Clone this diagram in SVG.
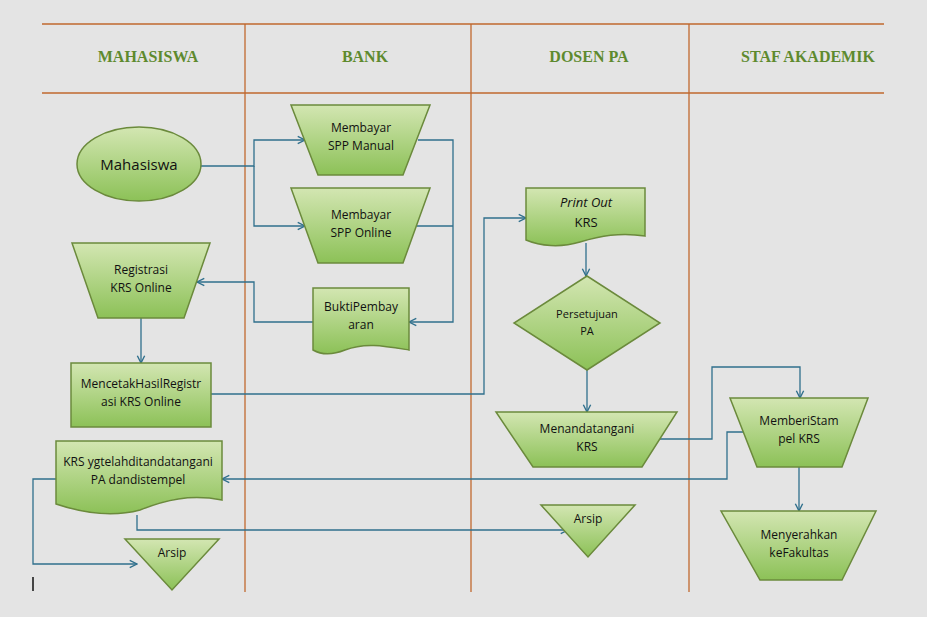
<svg xmlns="http://www.w3.org/2000/svg" width="927" height="617" viewBox="0 0 927 617">
<defs>
<linearGradient id="g" x1="0" y1="0" x2="0" y2="1"><stop offset="0" stop-color="#d3e6b2"/><stop offset="1" stop-color="#8cc157"/></linearGradient>
<marker id="a" viewBox="0 0 10 10" refX="9" refY="5" markerWidth="7" markerHeight="7" orient="auto-start-reverse"><path d="M1,1 L9,5 L1,9" fill="none" stroke="#2f6f8c" stroke-width="1.5"/></marker>
</defs>
<style>
.s{fill:url(#g);stroke:#6b8a3c;stroke-width:1.5}
.t{font-family:"Open Sans","Liberation Sans",sans-serif;font-size:12px;fill:#111;text-anchor:middle}
.h{font-family:"Liberation Serif",serif;font-weight:bold;font-size:16px;fill:#5e8a2e;text-anchor:middle}
.c{fill:none;stroke:#2f6f8c;stroke-width:1.3}
.l{stroke:#c0682e;stroke-width:1.3}
</style>
<rect width="927" height="617" fill="#e4e4e4"/>
<g id="lanes">
<line class="l" x1="42" y1="24" x2="884" y2="24"/>
<line class="l" x1="42" y1="93" x2="884" y2="93"/>
<line class="l" x1="245" y1="24" x2="245" y2="592"/>
<line class="l" x1="471" y1="24" x2="471" y2="592"/>
<line class="l" x1="689" y1="24" x2="689" y2="592"/>
<text class="h" x="148" y="62">MAHASISWA</text>
<text class="h" x="365" y="62">BANK</text>
<text class="h" x="589" y="62">DOSEN PA</text>
<text class="h" x="808" y="62">STAF AKADEMIK</text>
</g>
<g id="connectors">
<path class="c" d="M201,166 H254 V140 H305" marker-end="url(#a)"/>
<path class="c" d="M254,166 V226 H305" marker-end="url(#a)"/>
<path class="c" d="M418,140 H453 V322 H409" marker-end="url(#a)"/>
<path class="c" d="M417,226 H453"/>
<path class="c" d="M313,322 H254 V282 H197" marker-end="url(#a)"/>
<path class="c" d="M141,318 V363" marker-end="url(#a)"/>
<path class="c" d="M211,394 H484 V218 H526" marker-end="url(#a)"/>
<path class="c" d="M586,243 V276" marker-end="url(#a)"/>
<path class="c" d="M587,370 V412" marker-end="url(#a)"/>
<path class="c" d="M660,439 H712 V367 H800 V398" marker-end="url(#a)"/>
<path class="c" d="M744,432 H727 V479 H222" marker-end="url(#a)"/>
<path class="c" d="M56,479 H33 V564 H137" marker-end="url(#a)"/>
<path class="c" d="M137,515 V530 H568" marker-end="url(#a)"/>
<path class="c" d="M799,467 V511" marker-end="url(#a)"/>
<line x1="33" y1="577" x2="33" y2="591" stroke="#111" stroke-width="1.5"/>
</g>
<g id="mahasiswa"><ellipse class="s" cx="139" cy="164" rx="62" ry="37"/><text class="t" x="139" y="170" style="font-size:15px">Mahasiswa</text></g>
<g id="manual"><path class="s" d="M291,105 H430 L403,175 H318 Z"/><text class="t" x="361" y="132">Membayar</text><text class="t" x="361" y="150">SPP Manual</text></g>
<g id="online"><path class="s" d="M291,188 H430 L403,263 H318 Z"/><text class="t" x="361" y="219">Membayar</text><text class="t" x="361" y="237">SPP Online</text></g>
<g id="registrasi"><path class="s" d="M72,243 H210 L184,318 H98 Z"/><text class="t" x="141" y="274">Registrasi</text><text class="t" x="141" y="292">KRS Online</text></g>
<g id="bukti"><path class="s" d="M313,288 H409 V350 C385,346 365,342 345,350 C330,356 320,354 313,350 Z"/><text class="t" x="361" y="311">BuktiPembay</text><text class="t" x="361" y="329">aran</text></g>
<g id="mencetak"><rect class="s" x="71" y="363" width="140" height="64"/><text class="t" x="141" y="388">MencetakHasilRegistr</text><text class="t" x="141" y="406">asi KRS Online</text></g>
<g id="krsttd"><path class="s" d="M56,441 H222 V500 C190,494 165,500 140,510 C110,518 80,512 56,504 Z"/><text class="t" x="138" y="466">KRS ygtelahditandatangani</text><text class="t" x="138" y="484">PA dandistempel</text></g>
<g id="arsip1"><path class="s" d="M125,539 H219 L172,590 Z"/><text class="t" x="172" y="557">Arsip</text></g>
<g id="arsip2"><path class="s" d="M541,505 H635 L588,557 Z"/><text class="t" x="588" y="523">Arsip</text></g>
<g id="printout"><path class="s" d="M526,188 H645 V236 C620,232 600,236 580,242 C560,248 540,246 526,240 Z"/><text class="t" x="586" y="207" style="font-style:italic;font-size:13px">Print Out</text><text class="t" x="586" y="227" style="font-size:13px">KRS</text></g>
<g id="persetujuan"><path class="s" d="M587,276 L660,323 L587,370 L514,323 Z"/><text class="t" x="587" y="318" style="font-size:11px">Persetujuan</text><text class="t" x="587" y="335" style="font-size:11px">PA</text></g>
<g id="menandatangani"><path class="s" d="M496,412 H677 L642,467 H533 Z"/><text class="t" x="587" y="433">Menandatangani</text><text class="t" x="587" y="451">KRS</text></g>
<g id="stempel"><path class="s" d="M730,398 H868 L842,467 H757 Z"/><text class="t" x="799" y="425">MemberiStam</text><text class="t" x="799" y="443">pel KRS</text></g>
<g id="menyerahkan"><path class="s" d="M721,511 H876 L842,580 H760 Z"/><text class="t" x="799" y="539">Menyerahkan</text><text class="t" x="799" y="557">keFakultas</text></g>
</svg>
